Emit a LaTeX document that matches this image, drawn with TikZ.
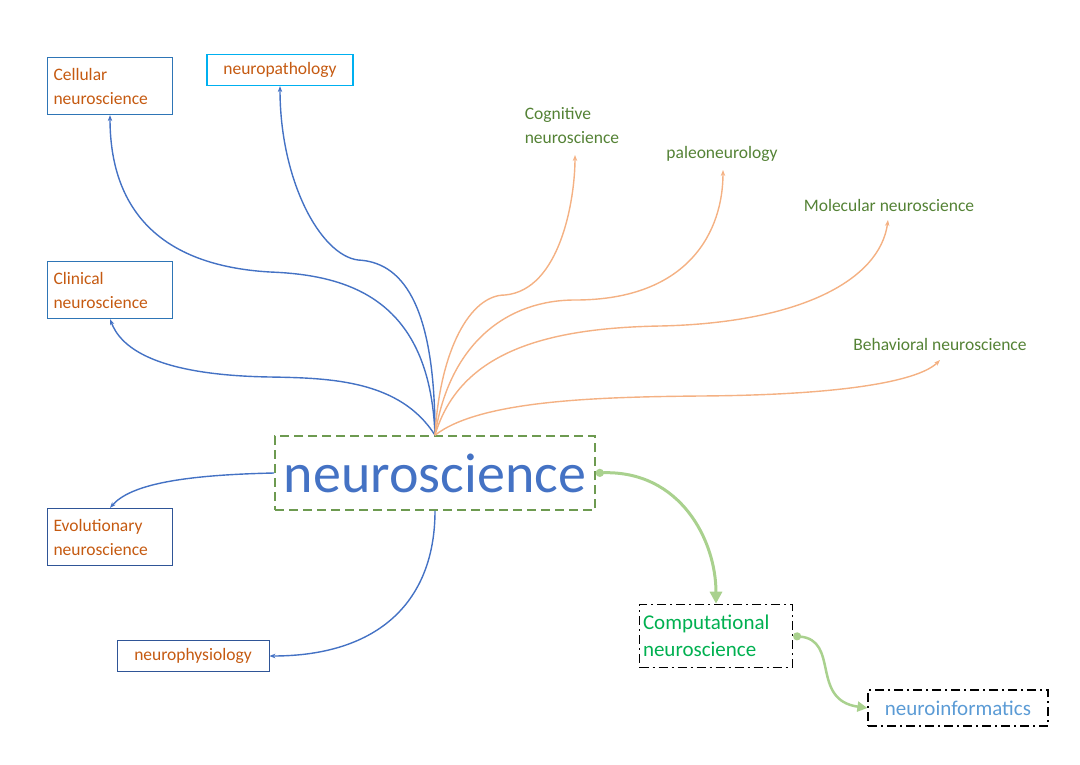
\documentclass[tikz,border=0pt]{standalone}
\usepackage{fontspec}
\setmainfont{Carlito}
\usetikzlibrary{arrows.meta}
\definecolor{boxblue}{RGB}{46,117,182}
\definecolor{linkblue}{RGB}{68,114,196}
\definecolor{skyblue}{RGB}{0,176,240}
\definecolor{darkblue}{RGB}{47,85,151}
\definecolor{rust}{RGB}{197,90,17}
\definecolor{leaf}{RGB}{84,130,53}
\definecolor{peach}{RGB}{244,177,131}
\definecolor{lightgreen}{RGB}{169,209,142}
\definecolor{compgreen}{RGB}{0,176,80}
\definecolor{infoblue}{RGB}{91,155,213}
\tikzset{
    field/.style={draw=boxblue, line width=1.2pt, rectangle, text=rust, align=left, font=\fontsize{17.5}{24}\selectfont, inner sep=6pt},
    topic/.style={text=leaf, align=left, font=\fontsize{17.5}{24}\selectfont},
    blue link/.style={draw=linkblue, line width=1.4pt, -{Stealth[length=6pt]}},
    orange link/.style={draw=peach, line width=1.4pt, -{Stealth[length=6pt]}},
}
\begin{document}
\begin{tikzpicture}[x=1pt, y=-1pt]
        \useasboundingbox (0,0) rectangle (1080,764);

        \node[draw=leaf!70!lightgreen, dashed, dash pattern=on 9pt off 5pt, line width=1.6pt, minimum width=320pt, minimum height=74pt, text=linkblue, font=\fontsize{56}{60}\selectfont] (NS) at (435,473) {neuroscience};

        \node[field, text width=113pt, minimum height=57pt] (Cell) at (110,86) {Cellular\\neuroscience};
        \node[field, draw=skyblue, minimum width=146pt, minimum height=31pt] (Path) at (280,70) {neuropathology};
        \node[field, text width=113pt, minimum height=57pt] (Clin) at (110,290) {Clinical\\neuroscience};
        \node[field, draw=darkblue, text width=113pt, minimum height=57pt] (Evo) at (110,537) {Evolutionary\\neuroscience};
        \node[field, draw=darkblue, line width=0.8pt, minimum width=152pt, minimum height=31pt] (Phys) at (193,656) {neurophysiology};

        \node[topic] (Cog) at (572,126) {Cognitive\\neuroscience};
        \node[topic] (Paleo) at (722,154) {paleoneurology};
        \node[topic] (Mol) at (889,205) {Molecular neuroscience};
        \node[topic] (Beh) at (940,344) {Behavioral neuroscience};

        \node[draw, dash pattern=on 9pt off 4pt on 2pt off 4pt, line width=1.6pt, text=compgreen, align=left, text width=146pt, font=\fontsize{21}{27}\selectfont, minimum height=63pt] (Comp) at (716,636) {Computational\\neuroscience};
        \node[draw, dash pattern=on 9pt off 4pt on 2pt off 4pt, line width=1.2pt, text=infoblue, minimum width=180pt, minimum height=36pt, font=\fontsize{21}{25}\selectfont] (Info) at (958,708) {neuroinformatics};

        \coordinate (top) at (NS.north);

        \draw[blue link] (top) .. controls (430,300) and (350,275) .. (270,272) .. controls (150,265) and (110,200) .. (Cell.south);
        \draw[blue link] (top) .. controls (435,300) and (400,262) .. (358,260) .. controls (320,255) and (280,180) .. (Path.south);
        \draw[blue link] (top) .. controls (400,380) and (330,378) .. (270,377) .. controls (150,375) and (120,345) .. (Clin.south);
        \draw[blue link] (NS.west) .. controls (180,475) and (130,485) .. (Evo.north);
        \draw[blue link] (NS.south) .. controls (435,600) and (380,656) .. (Phys.east);

        \begin{scope}[orange link]
            \draw (top) .. controls (440,350) and (470,295) .. (505,295) .. controls (560,290) and (575,200) .. (575,155);
            \draw (top) .. controls (450,340) and (510,300) .. (575,300) .. controls (690,300) and (723,230) .. (723,170);
            \draw (top) .. controls (460,350) and (550,328) .. (660,326) .. controls (800,323) and (880,280) .. (888,220);
            \draw (top) .. controls (480,400) and (600,397) .. (700,396) .. controls (850,395) and (920,380) .. (940,360);
        \end{scope}

        \draw[draw=lightgreen, line width=3pt, {Circle[length=8pt]}-{Triangle[length=12pt, width=12pt]}] (NS.east) .. controls (680,470) and (716,540) .. (Comp.north);
        \draw[draw=lightgreen, line width=2.5pt, {Circle[length=8pt]}-{Triangle[length=10pt, width=10pt]}] (Comp.east) .. controls (840,640) and (810,700) .. (Info.west);
    \end{tikzpicture}
\end{document}
